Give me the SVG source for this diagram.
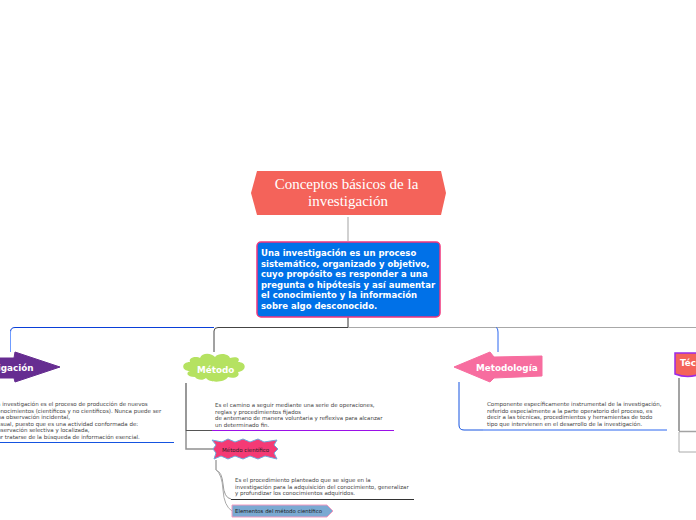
<svg xmlns="http://www.w3.org/2000/svg" width="696" height="520" viewBox="0 0 696 520">
<style>
text{font-family:"DejaVu Sans",sans-serif}
.w{font-weight:700;fill:#fff}
.s{font-size:5.5px;fill:#444}
.c{fill:none;stroke-linecap:butt}
</style>
<rect width="696" height="520" fill="#fff"/>
<g id="connectors" class="c">
<path d="M348 217V241" stroke="#a3a3a3" stroke-width="1"/>
<path d="M348 317V327" stroke="#777" stroke-width="1.500"/>
<path d="M348 327.500H696" stroke="#a8a8a8" stroke-width="1"/>
<path d="M348 327.500H218Q214 327.500 214 331V352" stroke="#444" stroke-width="1"/>
<path d="M214 327.500H15Q10.500 327.500 10.500 332V352" stroke="#0a3fd8" stroke-width="1"/>
<path d="M10.500 331V352" stroke="#6f9cff" stroke-width="1"/>
<path d="M496 327.500Q498 327.500 498 332V352" stroke="#2a66f0" stroke-width="1"/>
<path d="M-5 442.500H174" stroke="#1553e0" stroke-width="1"/>
<path d="M186 383V430.500H212" stroke="#555" stroke-width="1.200"/>
<path d="M212 430.500H394" stroke="#9b10e8" stroke-width="1"/>
<path d="M186 431V449H214" stroke="#909090" stroke-width="1.500"/>
<path d="M216 460V470Q222 472 223 484Q224 498 231 499" stroke="#9a9a9a" stroke-width="1"/>
<path d="M231 499.500H414" stroke="#333" stroke-width="1"/>
<path d="M216 460V470Q222 474 223 490Q224 506 232 511" stroke="#aaa" stroke-width="1"/>
<path d="M459 382V425Q459 430 464 430H483" stroke="#1553e0" stroke-width="1"/>
<path d="M483 430H667" stroke="#2a66f0" stroke-width="1"/>
<path d="M679 378V431" stroke="#666" stroke-width="1.200"/>
<path d="M679 431.500H696" stroke="#a3a3a3" stroke-width="1.500"/>
<path d="M679 432V452H696" stroke="#aaa" stroke-width="1"/>
</g>
<g id="title">
<path d="M257 171H441L446 193L441 215H257L251 193Z" fill="#f4635a"/>
<text x="346.500" y="189" text-anchor="middle" font-size="15" fill="#fff" style="font-family:'Liberation Serif',serif">Conceptos básicos de la</text>
<text x="348" y="206" text-anchor="middle" font-size="15" fill="#fff" style="font-family:'Liberation Serif',serif">investigación</text>
</g>
<g id="definicion">
<rect x="257" y="242" width="183" height="75" rx="4" fill="#0071e8" stroke="#f0357c" stroke-width="1.500"/>
<g class="w" font-size="8.500">
<text x="261" y="256">Una investigación es un proceso</text>
<text x="261" y="266.500">sistemático, organizado y objetivo,</text>
<text x="261" y="277">cuyo propósito es responder a una</text>
<text x="261" y="287.500">pregunta o hipótesis y así aumentar</text>
<text x="261" y="298">el conocimiento y la información</text>
<text x="261" y="308.500">sobre algo desconocido.</text>
</g>
</g>
<g id="investigacion">
<path d="M-2 358H14L15 352L60 367L15 382L14 378H-2Z" fill="#662d91" stroke="#662d91" stroke-linejoin="round"/>
<text x="-33" y="371" class="w" font-size="8.800">Investigación</text>
<g class="s">
<text x="-6" y="406">La investigación es el proceso de producción de nuevos</text>
<text x="-6" y="412.500">conocimientos (científicos y no científicos). Nunca puede ser</text>
<text x="-6" y="419">una observación incidental,</text>
<text x="-6" y="425.500">casual, puesto que es una actividad conformada de:</text>
<text x="-6" y="432">observación selectiva y localizada,</text>
<text x="-6" y="438.500">por tratarse de la búsqueda de información esencial.</text>
</g>
</g>
<g id="metodo">
<path d="M195 377C186 377 186 372 190 371C181 371 181 362 190 362C188 357 197 356 200 358C202 352 212 353 215 357C219 352 229 354 230 358C236 356 241 358 238 362C247 362 247 371 238 372C241 377 233 379 228 377C225 383 209 383 206 378C203 381 197 380 195 377Z" fill="#b5e261"/>
<text x="197" y="373" class="w" font-size="8.800">Método</text>
<g class="s">
<text x="215" y="407">Es el camino a seguir mediante una serie de operaciones,</text>
<text x="215" y="413.500">reglas y procedimientos fijados</text>
<text x="215" y="420">de antemano de manera voluntaria y reflexiva para alcanzar</text>
<text x="215" y="426.500">un determinado fin.</text>
</g>
</g>
<g id="metodo-cientifico">
<path d="M212 440L222 442L228 439L235 442L243 439L250 442L258 439L264 442L277 440L274 445L278 449L274 453L277 459L265 456L258 459L250 456L243 459L235 456L228 459L221 456L214 459L216 453L213 449L216 445Z" fill="#f43a75" stroke="#6fa8dc" stroke-width="1"/>
<text x="222" y="451.500" font-size="5.500" fill="#222">Método científico</text>
<g class="s">
<text x="235" y="482">Es el procedimiento planteado que se sigue en la</text>
<text x="235" y="488.500">investigación para la adquisición del conocimiento, generalizar</text>
<text x="235" y="495">y profundizar los conocimientos adquiridos.</text>
</g>
</g>
<g id="elementos">
<path d="M232 505H327L333 511L327 517H232Z" fill="#7aa9d2" stroke="#f39ac0" stroke-width="1"/>
<text x="235" y="513" font-size="5.400" fill="#222">Elementos del método científico</text>
</g>
<g id="metodologia">
<path d="M454 367L490 352L494 357L542 356V376L494 378L490 382Z" fill="#f76d9f" stroke="#f76d9f" stroke-linejoin="round"/>
<text x="476" y="371" class="w" font-size="8.800">Metodología</text>
<g class="s">
<text x="487" y="406">Componente específicamente instrumental de la investigación,</text>
<text x="487" y="412.500">referido especialmente a la parte operatorio del proceso, es</text>
<text x="487" y="419">decir a las técnicas, procedimientos y herramientas de todo</text>
<text x="487" y="425.500">tipo que intervienen en el desarrollo de la investigación.</text>
</g>
</g>
<g id="tecnicas">
<path d="M675 353H700V374Q688 379 675 374Z" fill="#f4635a" stroke="#9b2be8" stroke-width="1.500"/>
<text x="680" y="366" class="w" font-size="8.800">Técnicas</text>
</g>
</svg>
